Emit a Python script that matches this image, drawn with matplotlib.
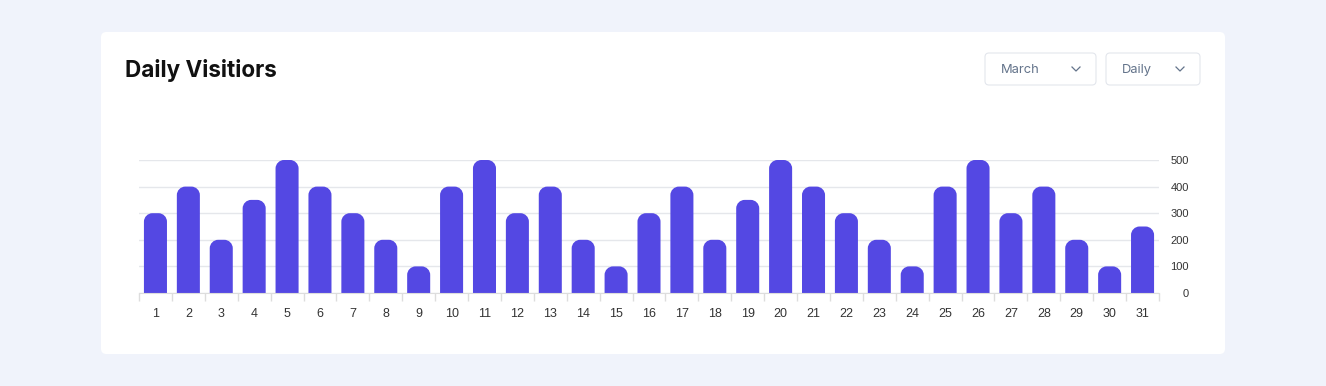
import matplotlib
matplotlib.use("Agg")
import matplotlib.pyplot as plt
from matplotlib.patches import FancyBboxPatch, PathPatch
from matplotlib.path import Path

# Daily visitors for March
days = list(range(1, 32))
visitors = [300, 400, 200, 350, 500, 400, 300, 200, 100, 400,
            500, 300, 400, 200, 100, 300, 400, 200, 350, 500,
            400, 300, 200, 100, 400, 500, 300, 400, 200, 100, 250]
y_ticks = [0, 100, 200, 300, 400, 500]

W, H = 1326, 386
bar_color = '#5448e3'
text_color = '#333333'

plt.rcParams['font.family'] = ['Inter', 'DejaVu Sans']
fig = plt.figure(figsize=(W / 100, H / 100), dpi=100)
fig.patch.set_facecolor('#f0f3fb')


def fx(px):
    return px / W


def fy(py):
    return 1 - py / H


# white card
card = FancyBboxPatch((fx(101), fy(354)), fx(1124), 322 / H,
                      boxstyle="round,pad=0,rounding_size=0.004",
                      mutation_aspect=W / H,
                      transform=fig.transFigure, facecolor='white',
                      edgecolor='none', zorder=-2)
fig.patches.append(card)

fig.text(fx(125), fy(71), 'Daily Visitiors', fontsize=16.2, fontweight='bold',
         color='#111111', va='center', ha='left')

# dropdowns
for x0, x1, label in [(985, 1096, 'March'), (1106, 1200, 'Daily')]:
    box = FancyBboxPatch((fx(x0), fy(85)), fx(x1 - x0), 32 / H,
                         boxstyle="round,pad=0,rounding_size=0.003",
                         mutation_aspect=W / H,
                         transform=fig.transFigure, facecolor='white',
                         edgecolor='#e3e6ec', linewidth=0.8, zorder=-1)
    fig.patches.append(box)
    fig.text(fx(x0 + 16), fy(70), label, fontsize=9.3, color='#64748b',
             va='center', ha='left')
    cx = x1 - 20
    fig.add_artist(plt.Line2D([fx(cx - 4), fx(cx), fx(cx + 4)],
                              [fy(67), fy(71), fy(67)],
                              transform=fig.transFigure, color='#64748b',
                              linewidth=0.9))

ax = fig.add_axes([fx(139), fy(293), fx(1020), 133 / H])
ax.set_zorder(2)
ax.set_facecolor('none')
ax.set_xlim(0.5, 31.5)
ax.set_ylim(0, 500)

# bars with rounded top corners (radius ~8 px, circular arcs)
bar_w = 0.7
rx = 8.5 * 31 / 1020
ry = 8.5 * 500 / 133
k = 0.5523
for d, v in zip(days, visitors):
    x0, x1 = d - bar_w / 2, d + bar_w / 2
    verts = [(x0, 0), (x0, v - ry),
             (x0, v - ry + k * ry), (x0 + rx - k * rx, v), (x0 + rx, v),
             (x1 - rx, v),
             (x1 - rx + k * rx, v), (x1, v - ry + k * ry), (x1, v - ry),
             (x1, 0), (x0, 0)]
    codes = [Path.MOVETO, Path.LINETO,
             Path.CURVE4, Path.CURVE4, Path.CURVE4,
             Path.LINETO,
             Path.CURVE4, Path.CURVE4, Path.CURVE4,
             Path.LINETO, Path.CLOSEPOLY]
    ax.add_patch(PathPatch(Path(verts, codes), facecolor=bar_color,
                           edgecolor='none', zorder=3, clip_on=False))

tick_font = ['Liberation Sans', 'DejaVu Sans']
ax.set_yticks(y_ticks)
ax.set_yticklabels([str(t) for t in y_ticks], family=tick_font)
ax.yaxis.tick_right()
ax.tick_params(axis='y', length=0, pad=21.5, labelsize=8, labelcolor=text_color)
for lbl in ax.get_yticklabels():
    lbl.set_horizontalalignment('right')
ax.grid(axis='y', color='#e5e7eb', linewidth=1, zorder=0)

ax.set_xticks(days)
ax.set_xticklabels([str(d) for d in days], family=tick_font)
ax.set_xticks([d + 0.5 for d in [0] + days], minor=True)
ax.tick_params(axis='x', which='major', length=0, pad=11, labelsize=9,
               labelcolor=text_color)
ax.tick_params(axis='x', which='minor', length=6, color='#dddddd', width=1)

for s in ['top', 'left', 'right']:
    ax.spines[s].set_visible(False)
ax.spines['bottom'].set_color('#dddddd')
ax.spines['bottom'].set_zorder(4)

fig.savefig('out.png', dpi=100, facecolor=fig.get_facecolor())
